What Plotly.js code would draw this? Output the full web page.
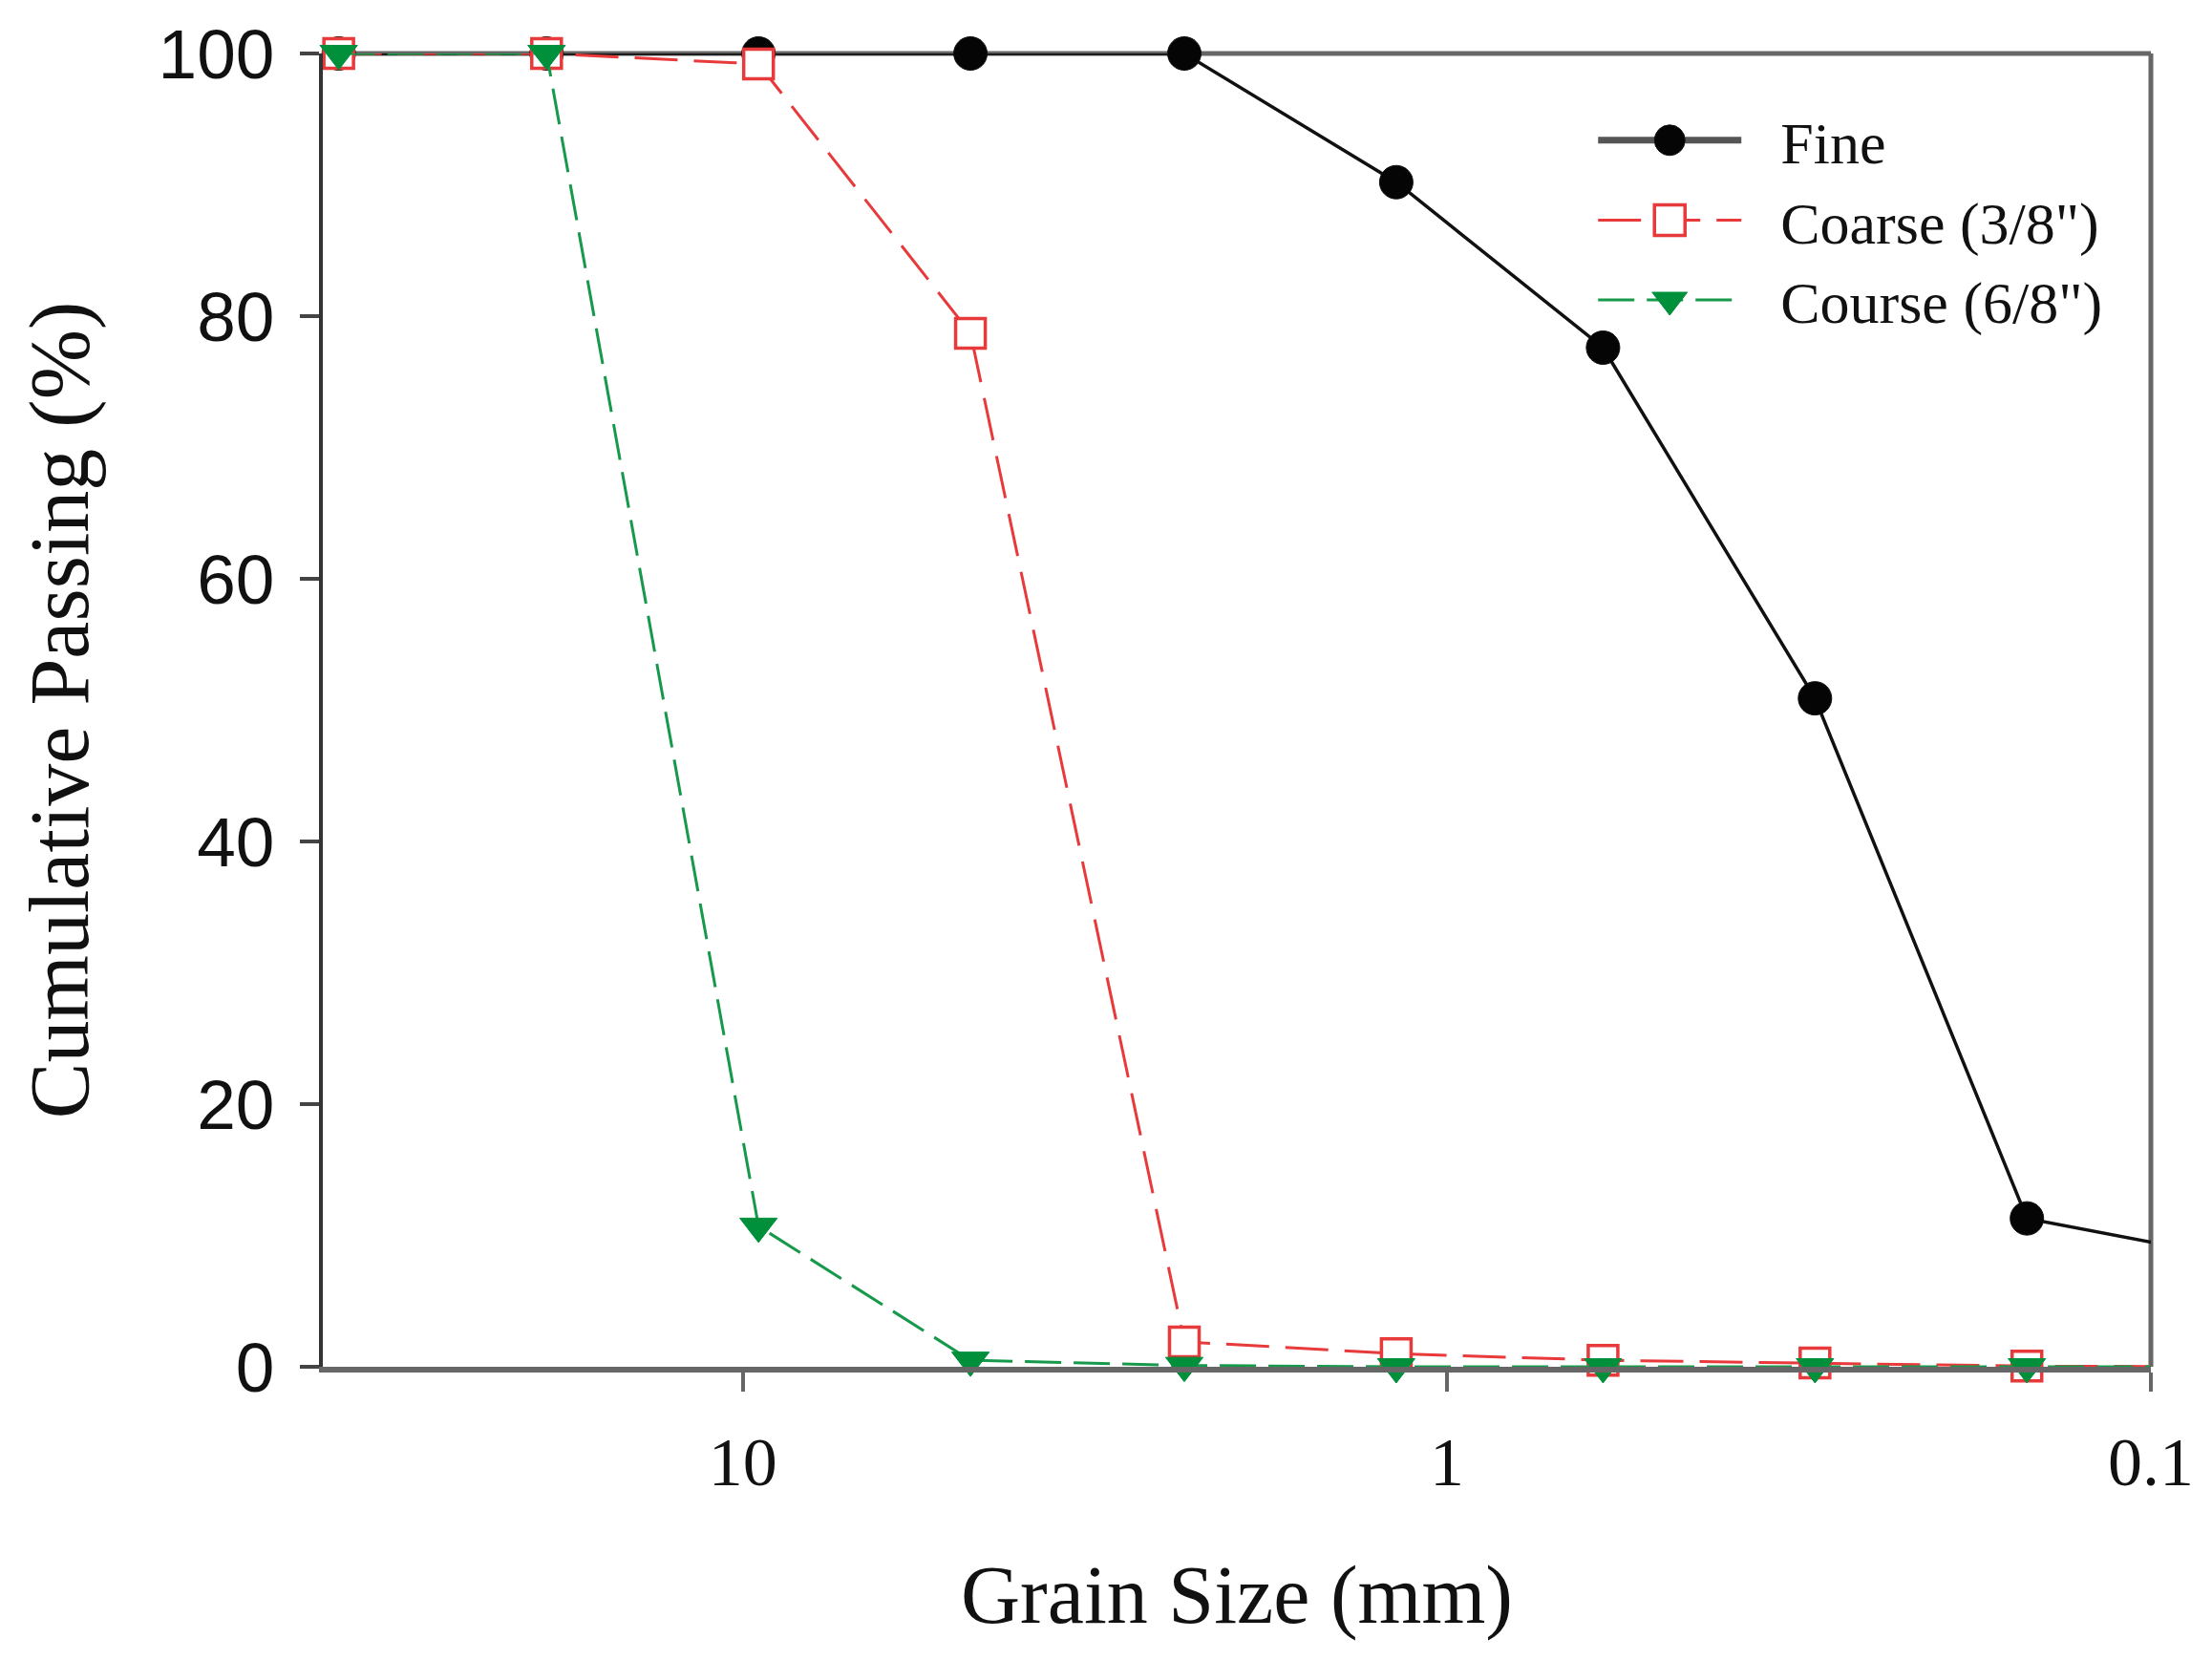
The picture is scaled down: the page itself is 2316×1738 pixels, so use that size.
<!DOCTYPE html>
<html>
<head>
<meta charset="utf-8">
<script src="https://cdn.plot.ly/plotly-3.0.1.min.js"></script>
<style>
html,body{margin:0;padding:0;background:#fff;}
#chart{width:2316px;height:1738px;}
</style>
</head>
<body>
<div id="chart"></div>
<script>
// Sieve sizes (mm)
var grainSize = [37.5, 19, 9.5, 4.75, 2.36, 1.18, 0.6, 0.3, 0.15, 0.075];
// Cumulative passing (%)
var finePassing   = [100, 100, 100, 100, 100, 90.2, 77.6, 50.9, 11.3, 8.2];
var coarse38      = [100, 100, 99.2, 78.7, 1.9, 1.0, 0.5, 0.3, 0.05, 0];
var course68      = [100, 100, 10.7, 0.5, 0.1, 0, 0, 0, 0, 0];
var seriesNames = ['Fine', 'Coarse (3/8")', 'Course (6/8")'];
var xTickVals = [10, 1, 0.1];
var xTickText = ['10', '1', '0.1'];
var yTickVals = [0, 20, 40, 60, 80, 100];

function sizesHidingLast(n, s){ var a=[]; for(var i=0;i<n;i++){a.push(i===n-1?0:s);} return a; }

var traces = [
  {
    x: grainSize, y: finePassing, name: seriesNames[0], type: 'scatter', mode: 'lines+markers',
    line: {color: '#111111', width: 3.5},
    marker: {symbol: 'circle', color: '#050505', opacity: 1, size: sizesHidingLast(grainSize.length, 35)},
    cliponaxis: false
  },
  {
    x: grainSize, y: coarse38, name: seriesNames[1], type: 'scatter', mode: 'lines+markers',
    line: {color: '#e8393b', width: 3, dash: '45px,17px'},
    marker: {symbol: 'square', color: '#ffffff', opacity: 1, size: sizesHidingLast(grainSize.length, 31), line: {color: '#e8393b', width: 3.5}},
    cliponaxis: false
  },
  {
    x: grainSize, y: course68, name: seriesNames[2], type: 'scatter', mode: 'lines+markers',
    line: {color: '#16994a', width: 3, dash: '38px,13px'},
    marker: {symbol: 'triangle-down', color: '#00903c', opacity: 1, size: sizesHidingLast(grainSize.length, 34), line: {color: '#00903c', width: 1}},
    cliponaxis: false
  }
];

var layout = {
  width: 2316, height: 1738,
  margin: {l: 338, r: 64, t: 56, b: 307},
  paper_bgcolor: '#ffffff', plot_bgcolor: '#ffffff',
  showlegend: true,
  legend: {
    x: 0.695, xanchor: 'left', y: 0.968, yanchor: 'top',
    bgcolor: 'rgba(0,0,0,0)', borderwidth: 0,
    font: {family: 'Liberation Serif, Times New Roman, serif', size: 62, color: '#111'},
    itemwidth: 150, tracegroupgap: 0
  },
  xaxis: {
    type: 'log', range: [Math.log10(39.5), -1],
    tickvals: xTickVals, ticktext: xTickText,
    ticks: 'outside', ticklen: 20, tickwidth: 4, tickcolor: '#666',
    showline: true, linecolor: '#666', linewidth: 6, mirror: false,
    showgrid: false, zeroline: false,
    tickfont: {family: 'Liberation Serif, Times New Roman, serif', size: 72, color: '#111'},
    ticklabelstandoff: 12,
    title: {text: 'Grain Size (mm)', font: {family: 'Liberation Serif, Times New Roman, serif', size: 86, color: '#111'}, standoff: 70}
  },
  yaxis: {
    range: [0, 100], tickvals: yTickVals,
    ticks: 'outside', ticklen: 20, tickwidth: 4, tickcolor: '#444',
    showline: true, linecolor: '#333', linewidth: 4, mirror: false,
    showgrid: false, zeroline: false,
    tickfont: {family: 'Liberation Sans, Arial, sans-serif', size: 73, color: '#111'},
    ticklabelstandoff: 12,
    title: {text: 'Cumulative Passing (%)', font: {family: 'Liberation Serif, Times New Roman, serif', size: 88, color: '#111'}, standoff: 45}
  },
  shapes: [
    {type: 'line', xref: 'paper', yref: 'paper', x0: 0, x1: 1, y0: 1, y1: 1, line: {color: '#666', width: 5}, layer: 'below'},
    {type: 'line', xref: 'paper', yref: 'paper', x0: 1, x1: 1, y0: 0, y1: 1, line: {color: '#666', width: 5}, layer: 'below'}
  ]
};

Plotly.newPlot('chart', traces, layout, {displayModeBar: false, staticPlot: true}).then(function(){
  // enlarge legend markers to match plot markers
  document.querySelectorAll('.legend .legendpoints path.scatterpts').forEach(function(p){
    var t = p.getAttribute('transform') || '';
    p.setAttribute('transform', t + ' scale(2)');
    var sw = parseFloat(p.style.strokeWidth || '0');
    if (sw) p.style.strokeWidth = (sw/2) + 'px';
  });
  // gap between legend symbol and text
  document.querySelectorAll('.legend text.legendtext').forEach(function(t){
    var x = parseFloat(t.getAttribute('x') || '0');
    t.setAttribute('x', x + 36);
  });
  // let the shifted text show fully
  document.querySelectorAll('.legend [clip-path]').forEach(function(e){ e.removeAttribute('clip-path'); });
  // thicker grey line for the Fine legend symbol
  var firstLine = document.querySelector('.legend .traces .legendlines path');
  if (firstLine) { firstLine.style.strokeWidth = '7px'; firstLine.style.stroke = '#555'; }
});
</script>
</body>
</html>
